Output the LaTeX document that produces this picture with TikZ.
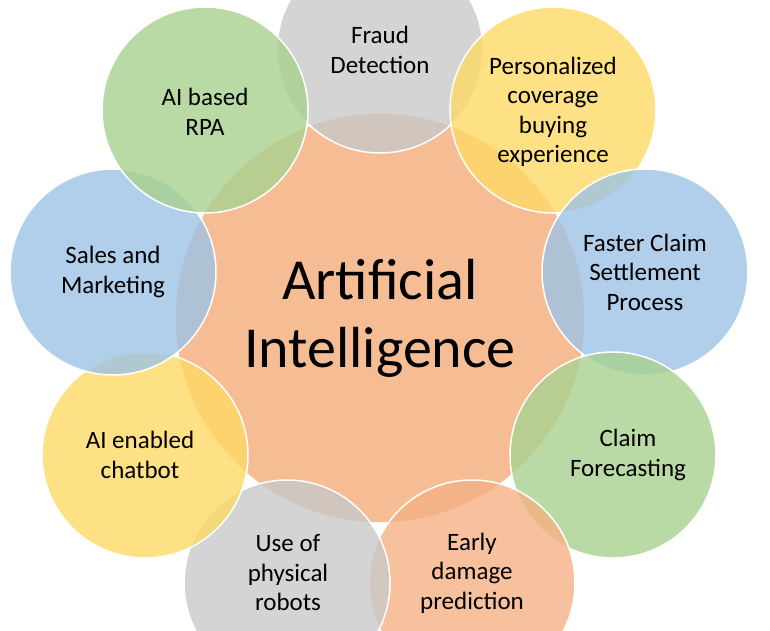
\documentclass[tikz,border=0pt]{standalone}
\usepackage{fontspec}
\setmainfont{Carlito}
\definecolor{corange}{HTML}{F4B183}
\definecolor{cgray}{HTML}{C9C9C9}
\definecolor{cyellow}{HTML}{FFD966}
\definecolor{cblue}{HTML}{9DC3E6}
\definecolor{cgreen}{HTML}{A9D18E}
\begin{document}
\begin{tikzpicture}[x=1pt,y=-1pt,
  petal/.style={circle,minimum size=206pt,draw=white,line width=1.5pt,fill opacity=0.8,text opacity=1,align=center},
  hub/.style={circle,minimum size=410pt,draw=white,line width=1.5pt,fill opacity=0.85,text opacity=1,align=center,font=\fontsize{58}{68}\selectfont}]
\useasboundingbox (0,0) rectangle (770,630);
\begin{scope}
\clip (0,0) rectangle (770,630);
\node[hub,fill=corange] (ai) at (380,318) {Artificial\\Intelligence};
\node[petal,fill=cgray] (fraud) at (380,50) {};
\node[petal,fill=cyellow] (pers) at (553,110) {};
\node[petal,fill=cblue] (fast) at (645,272) {};
\node[petal,fill=cgreen] (fore) at (613,455) {};
\node[petal,fill=corange] (early) at (472,583) {};
\node[petal,fill=cgray] (robot) at (287,583) {};
\node[petal,fill=cyellow] (chat) at (145,455) {};
\node[petal,fill=cblue] (sales) at (113,272) {};
\node[petal,fill=cgreen] (rpa) at (205,110) {};
\end{scope}
\tikzset{lbl/.style={align=center,font=\fontsize{25}{29.5}\selectfont}}
\node[lbl] (t1) at (380,50) {Fraud\\Detection};
\node[lbl] (t2) at (553,112) {Personalized\\coverage\\buying\\experience};
\node[lbl] (t3) at (645,272) {Faster Claim\\Settlement\\Process};
\node[lbl] (t4) at (628,455) {Claim\\Forecasting};
\node[lbl] (t5) at (472,573) {Early\\damage\\prediction};
\node[lbl] (t6) at (288,573) {Use of\\physical\\robots};
\node[lbl] (t7) at (140,455) {AI enabled\\chatbot};
\node[lbl] (t8) at (113,272) {Sales and\\Marketing};
\node[lbl] (t9) at (205,112) {AI based\\RPA};
\end{tikzpicture}
\end{document}
